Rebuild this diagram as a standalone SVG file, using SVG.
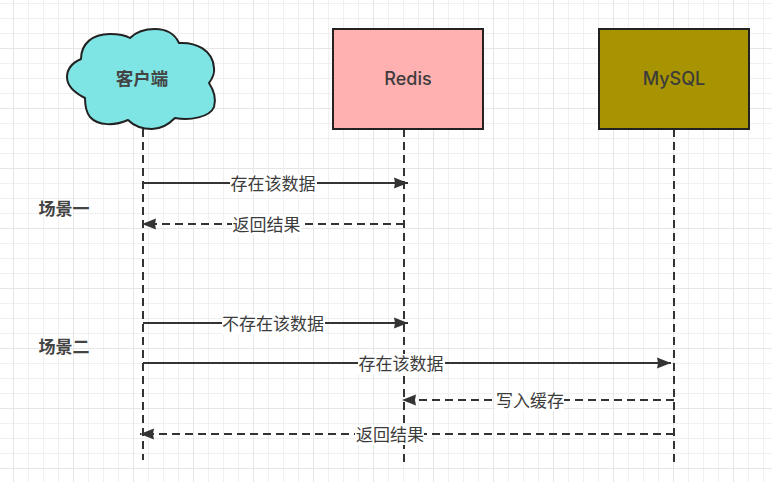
<svg xmlns="http://www.w3.org/2000/svg" width="772" height="482" viewBox="0 0 772 482">
<defs>
<pattern id="minor" x="13" y="3" width="15" height="15" patternUnits="userSpaceOnUse"><path d="M0.5 0V15M0 0.5H15" fill="none" stroke="#f0f0f0" stroke-width="1"/></pattern>
<pattern id="major" x="13" y="-12" width="60" height="60" patternUnits="userSpaceOnUse"><path d="M0.5 0V60M0 0.5H60" fill="none" stroke="#e6e6e6" stroke-width="1"/></pattern>
<marker id="arrow" markerUnits="userSpaceOnUse" markerWidth="14" markerHeight="12" refX="14" refY="6" orient="auto"><path d="M0 0.500L14 6L0 11.500L1 6Z" fill="#333"/></marker>
</defs>
<style>
text{font-family:"Noto Sans CJK SC","Liberation Sans",sans-serif;fill:#3c3c3c;font-size:17px;text-anchor:middle}
.l{fill:none;stroke:#333;stroke-width:2}
.d{stroke-dasharray:8 5}
.n{stroke:#222;stroke-width:2}
.bg{fill:#fff}
.b{font-weight:700;fill:#444}
.e{font-size:18px;font-weight:500;font-family:"Inter","Liberation Sans",sans-serif}
</style>
<rect width="772" height="482" fill="#fff"/>
<rect width="772" height="482" fill="url(#minor)"/>
<rect width="772" height="482" fill="url(#major)"/>
<g id="connectors">
<path class="l d" d="M143 129V460"/>
<path class="l d" d="M404 129V462"/>
<path class="l d" d="M674 129V462"/>
<path class="l" d="M143 183H408" marker-end="url(#arrow)"/>
<path class="l d" d="M404 224H142" marker-end="url(#arrow)"/>
<path class="l" d="M143 323H408" marker-end="url(#arrow)"/>
<path class="l" d="M143 363H671" marker-end="url(#arrow)"/>
<path class="l d" d="M674 400H402" marker-end="url(#arrow)"/>
<path class="l d" d="M674 434H140" marker-end="url(#arrow)"/>
<g>
<rect class="bg" x="230" y="174" width="87" height="20"/><text x="273" y="190">存在该数据</text>
<rect class="bg" x="232" y="215" width="69" height="20"/><text x="266.500" y="231">返回结果</text>
<rect class="bg" x="222" y="314" width="103" height="20"/><text x="273" y="330">不存在该数据</text>
<rect class="bg" x="358" y="354" width="87" height="20"/><text x="401" y="370">存在该数据</text>
<rect class="bg" x="495" y="391" width="69" height="20"/><text x="530" y="407">写入缓存</text>
<rect class="bg" x="355" y="425" width="69" height="20"/><text x="390" y="441">返回结果</text>
</g>
</g>
<g id="client">
<path class="n" stroke-linejoin="round" fill="#7ee4e4" d="M81 59C81 44 92 34 110 34C118 34 125 35 130 38C136 32 146 29 155 29C166 29 175 34 179 43C196 42 213 50 214 68C215 74 212 79 209 83C215 92 216 100 214 107C210 117 190 121 175 118C168 125 160 129 152 129C142 129 133 125 128 120C115 126 98 126 90 117C86 112 85 105 85 98C75 93 67 86 67 77C67 69 72 63 81 59Z"/>
<text class="b" x="142" y="85" style="font-size:17.500px">客户端</text>
</g>
<g id="redis">
<rect class="n" x="333" y="29" width="150" height="100" fill="#ffb0b0"/>
<text class="e" x="408" y="85">Redis</text>
</g>
<g id="mysql">
<rect class="n" x="599" y="29" width="150" height="100" fill="#a89400"/>
<text class="e" x="674" y="85">MySQL</text>
</g>
<g id="scene1"><text class="b" x="64" y="214.500">场景一</text></g>
<g id="scene2"><text class="b" x="64" y="352.500">场景二</text></g>
</svg>
